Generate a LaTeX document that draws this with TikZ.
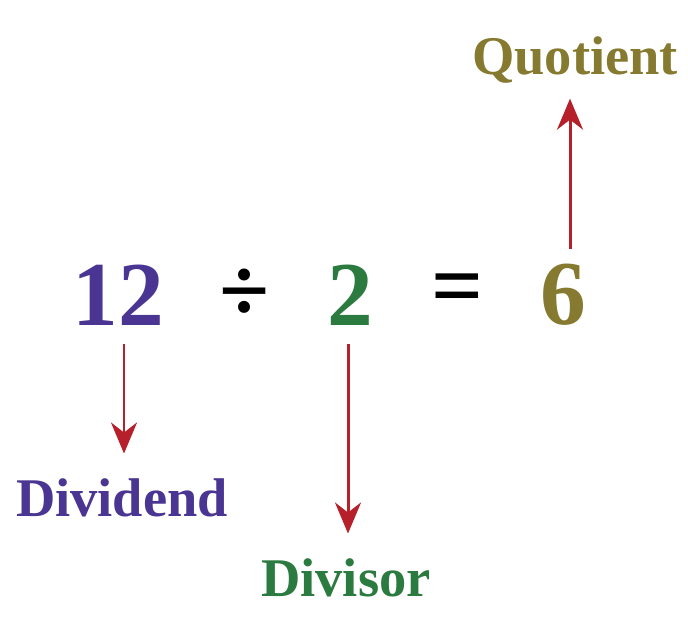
\documentclass[tikz,border=0pt]{standalone}
\usepackage{fontspec}
\setmainfont{Liberation Serif}
\usetikzlibrary{arrows.meta, positioning}

\definecolor{DivPurple}{HTML}{4B3592}
\definecolor{DivGreen}{HTML}{2B7A3F}
\definecolor{DivOlive}{HTML}{857A2F}
\definecolor{DivRed}{HTML}{B5202A}

\begin{document}
\begin{tikzpicture}
			[
			x=0.02cm, y=-0.02cm,
			Zahl/.style={inner sep=0pt, font=\fontsize{52}{52}\selectfont\bfseries},	%Zahlen der Gleichung
			Begriff/.style={inner sep=0pt, font=\fontsize{31}{31}\selectfont\bfseries},	%Beschriftungen
			Pfeil/.style={-{Stealth[length=0.62cm, width=0.52cm, inset=0.2cm]}, line width=1.7pt, color=DivRed}	%Pfeile
			]

			% Rahmen des Bildes
			\useasboundingbox (0,0) rectangle (688,632);

			%% Gleichung %%
			\node[Zahl, color=DivPurple] (twelve) at (118,295) {12};
			\node[Zahl] (divsign) at (245,295) {÷};
			\node[Zahl, color=DivGreen] (two) at (350,295) {2};
			\node[Zahl] (equals) at (458,295) {=};
			\node[Zahl, color=DivOlive] (six) at (563,295) {6};

			%% Begriffe %%
			\node[Begriff, color=DivPurple] (dividend) at (122,498) {Dividend};
			\node[Begriff, color=DivGreen] (divisor) at (346,578) {Divisor};
			\node[Begriff, color=DivOlive] (quotient) at (575,60) {Quotient};

			%% Pfeile %%
			\draw[Pfeil, shorten <=0.36cm, shorten >=0.5cm] ([xshift=0.12cm]twelve.south) -- ([xshift=0.12cm]twelve.south |- dividend.north);
			\draw[Pfeil, shorten <=0.36cm, shorten >=0.5cm] ([xshift=-0.04cm]two.south) -- ([xshift=-0.04cm]two.south |- divisor.north);
			\draw[Pfeil, shorten <=0.3cm, shorten >=0.3cm] ([xshift=0.14cm]six.north) -- ([xshift=0.14cm]six.north |- quotient.south);
		\end{tikzpicture}
\end{document}
